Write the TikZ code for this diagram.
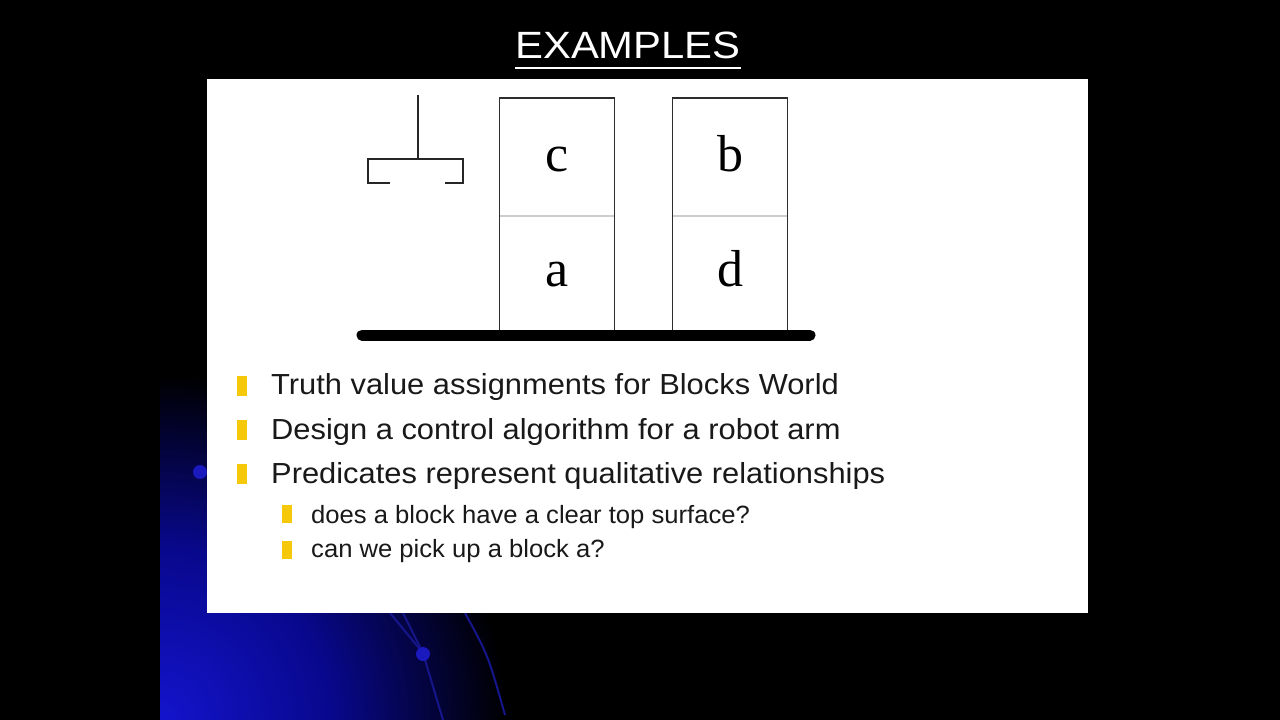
\documentclass[tikz,border=0pt]{standalone}
\usepackage{fontspec}
\setmainfont{Liberation Sans}
\newfontfamily\blkserif{Liberation Serif}
\definecolor{bulletyellow}{RGB}{245,200,10}
\definecolor{textcol}{RGB}{25,25,25}
\definecolor{blockline}{RGB}{45,45,45}
\definecolor{dividercol}{RGB}{205,205,205}
\definecolor{glowblue}{RGB}{20,20,205}
\definecolor{glowmid}{RGB}{8,8,140}
\definecolor{streakblue}{RGB}{22,22,140}
\definecolor{dotblue}{RGB}{25,25,190}
\pgfdeclareradialshading{blueglow}{\pgfpoint{0bp}{0bp}}{color(0bp)=(glowblue); color(12bp)=(glowmid); color(24bp)=(black); color(50bp)=(black)}
\begin{document}
\begin{tikzpicture}[x=1pt,y=-1pt,
  bigbullet/.style={fill=bulletyellow, draw=none, inner sep=0pt, minimum width=10pt, minimum height=20pt},
  smallbullet/.style={fill=bulletyellow, draw=none, inner sep=0pt, minimum width=10pt, minimum height=18pt},
  maintext/.style={anchor=base west, inner sep=0pt, text=textcol, font=\fontsize{29}{34}\selectfont},
  subtext/.style={anchor=base west, inner sep=0pt, text=textcol, font=\fontsize{25}{29}\selectfont},
  cell/.style={draw=none, inner sep=0pt, minimum width=115pt, minimum height=118pt, text height=28pt, text depth=0pt, font=\blkserif\fontsize{52}{60}\selectfont, text=black},
  blockframe/.style={draw=blockline, line width=1.5pt},
  divider/.style={draw=dividercol, line width=1.5pt},
  gripper/.style={draw=black!85, line width=2.4pt},
  streak/.style={draw=streakblue, line width=2pt}
]
\useasboundingbox (0,0) rectangle (1280,720);
% background
\fill[black] (-2,-2) rectangle (1282,722);
\begin{scope}
  \clip (160,300) rectangle (1120,722);
  \shade[shading=blueglow] (160,720) circle (360);
\end{scope}
% streaks and dots
\draw[streak] (390,613) -- (423,653) -- (443,720);
\draw[streak] (403,613) -- (423,653);
\draw[streak] (465,613) .. controls (488,655) .. (505,715);
\fill[dotblue] (423,654) circle (7);
\fill[dotblue] (200,472) circle (7);
% title
\node[inner sep=0pt, anchor=base, text=white, font=\fontsize{38}{44}\selectfont] (title) at (628,58) {\scalebox{1.1}[1]{EXAMPLES}};
\draw[white, line width=2.2pt] ([yshift=-10pt]title.base west) -- ([yshift=-10pt]title.base east);
% white panel
\fill[white] (207,79) rectangle (1088,613);
% gripper
\coordinate (gtop) at (418,95);
\coordinate (gmid) at (418,159);
\coordinate (gl) at (368,159);
\coordinate (gr) at (463,159);
\draw[gripper] (gtop) -- (gmid);
\draw[gripper] (390,183) -- (368,183) -- (gl) -- (gr) -- (463,183) -- (445,183);
% blocks
\node[cell] (c) at (557,157) {c};
\node[cell] (a) at (557,272) {a};
\node[cell] (b) at (730,157) {b};
\node[cell] (d) at (730,272) {d};
\draw[divider] (c.south west) -- (c.south east);
\draw[divider] (b.south west) -- (b.south east);
\draw[blockframe] (c.north west) rectangle (a.south east);
\draw[blockframe] (b.north west) rectangle (d.south east);
% floor
\coordinate (floorL) at (362,335);
\coordinate (floorR) at (810,335);
\draw[black, line width=11pt, line cap=round] (floorL) -- (floorR);
% bullets
\node[bigbullet] (p1) at (242,386) {};
\node[bigbullet] (p2) at (242,430) {};
\node[bigbullet] (p3) at (242,474) {};
\node[smallbullet] (s1) at (287,514) {};
\node[smallbullet] (s2) at (287,550) {};
\node[maintext] (t1) at (271,394) {\scalebox{1.064}[1]{Truth value assignments for Blocks World}};
\node[maintext] (t2) at (271,439) {\scalebox{1.064}[1]{Design a control algorithm for a robot arm}};
\node[maintext] (t3) at (271,483) {\scalebox{1.064}[1]{Predicates represent qualitative relationships}};
\node[subtext] (u1) at (311,523) {\scalebox{1.025}[1]{does a block have a clear top surface?}};
\node[subtext] (u2) at (311,557) {\scalebox{1.025}[1]{can we pick up a block a?}};
\end{tikzpicture}
\end{document}
